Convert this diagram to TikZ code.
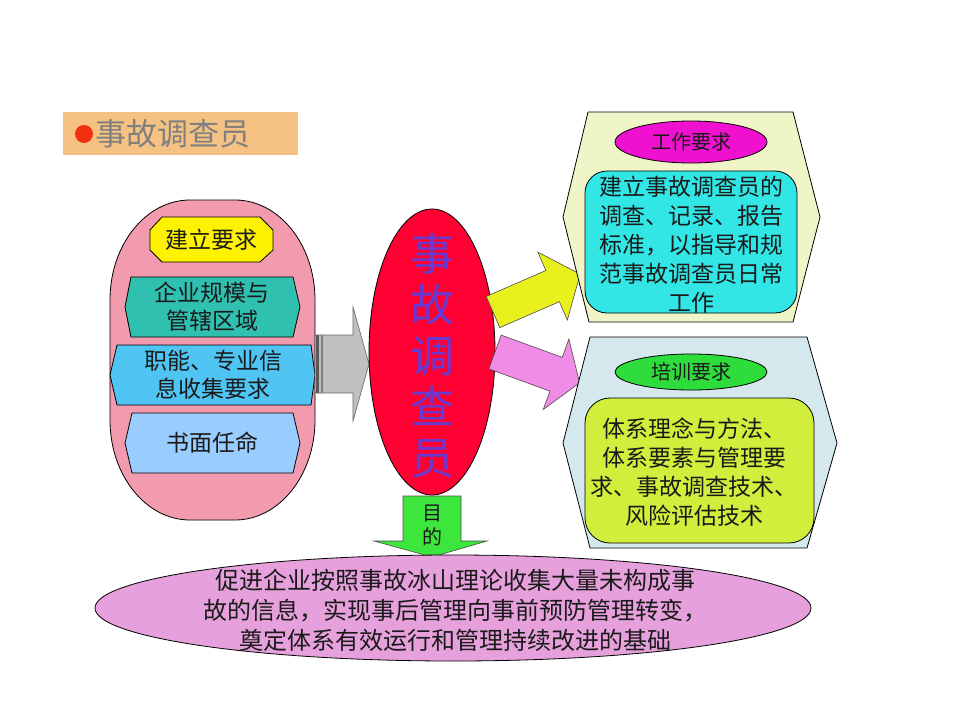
\documentclass[tikz,border=0pt]{standalone}
\usepackage{fontspec}
\setmainfont{Noto Sans CJK SC}
\usetikzlibrary{shapes.geometric}
\definecolor{titlebg}{HTML}{F6C283}
\definecolor{reddot}{HTML}{F03010}
\definecolor{capsule}{HTML}{F29BAE}
\definecolor{teal1}{HTML}{30C0B0}
\definecolor{blue1}{HTML}{50C4F2}
\definecolor{lblue}{HTML}{99CCFF}
\definecolor{grayarrow}{HTML}{C0C0C0}
\definecolor{redell}{HTML}{FF0033}
\definecolor{purpletext}{HTML}{6A3ACF}
\definecolor{yarrow}{HTML}{E8F01E}
\definecolor{parrow}{HTML}{F08CE6}
\definecolor{garrow}{HTML}{3CE63C}
\definecolor{hexA}{HTML}{F0F5C8}
\definecolor{magell}{HTML}{F010D0}
\definecolor{cyanbox}{HTML}{33E6E6}
\definecolor{hexB}{HTML}{D4E8EE}
\definecolor{greenell}{HTML}{2EDC3C}
\definecolor{ygbox}{HTML}{D2EE3C}
\definecolor{bottomell}{HTML}{E6A0DC}
\definecolor{darktext}{HTML}{1A1A1A}
\begin{document}
\begin{tikzpicture}[x=1pt,y=-1pt,line width=0.8pt,
  outl/.style={draw=black},
  txt/.style={inner sep=0pt,align=center,text=darktext,font=\fontsize{23}{28}\selectfont},
  lbl/.style={inner sep=0pt,align=center,text=darktext,font=\fontsize{20}{24}\selectfont}]
\useasboundingbox (0,0) rectangle (960,720);
\fill[white] (0,0) rectangle (960,720);

% title
\fill[titlebg] (63,112) rectangle (298,155);
\fill[reddot] (84,134) circle (9);
\node[anchor=west,inner sep=0pt,text=gray,font=\fontsize{31}{31}\selectfont] (title) at (95,134) {事故调查员};

% left capsule
\filldraw[fill=capsule,draw=black] (110,300) arc[start angle=180,end angle=270,x radius=80,y radius=100]
  -- (235,200) arc[start angle=270,end angle=360,x radius=80,y radius=100]
  -- (315,420) arc[start angle=0,end angle=90,x radius=80,y radius=100]
  -- (190,520) arc[start angle=90,end angle=180,x radius=80,y radius=100] -- cycle;

\filldraw[fill=yellow,draw=black] (150,230) -- (162,217) -- (260,217) -- (273,230) -- (273,250) -- (260,262) -- (162,262) -- (150,250) -- cycle;
\node[txt] (jl) at (211,240) {建立要求};

\filldraw[fill=teal1,draw=black] (125,307) -- (131,277) -- (293,277) -- (300,307) -- (293,337) -- (131,337) -- cycle;
\node[txt] (qy) at (212,307) {企业规模与\\管辖区域};

\filldraw[fill=blue1,draw=black] (110,375) -- (117,345) -- (311,345) -- (315,375) -- (311,405) -- (117,405) -- cycle;
\node[txt] (zn) at (213,375) {职能、专业信\\息收集要求};

\filldraw[fill=lblue,draw=black] (125,443) -- (132,413) -- (293,413) -- (300,443) -- (293,473) -- (132,473) -- cycle;
\node[txt] (sm) at (212,443) {书面任命};

% gray arrow
\filldraw[fill=grayarrow,draw=black!60,line width=0.6pt] (315,335) -- (353,335) -- (353,307) -- (369,364) -- (353,421) -- (353,393) -- (315,393) -- cycle;
\fill[gray!70!black] (316,335) rectangle (319,393);
\fill[gray] (321,335) rectangle (323,393);

% red ellipse
\node[ellipse,fill=redell,draw=black,minimum width=126pt,minimum height=286pt,inner sep=0pt] (ell) at (432,352) {};
\node[inner sep=0pt,align=center,text=purpletext,font=\fontsize{44}{51}\selectfont] (elltext) at (432,356) {事\\故\\调\\查\\员};

% arrows to right
\begin{scope}[shift={(493,312)},rotate=23.5]
\filldraw[fill=yarrow,draw=black!70,line width=0.6pt] (0,-17) -- (65,-17) -- (65,-37) -- (95,0) -- (65,37) -- (65,17) -- (0,17) -- cycle;
\end{scope}
\begin{scope}[shift={(495,352)},rotate=-20]
\filldraw[fill=parrow,draw=black!70,line width=0.6pt] (0,-18) -- (65,-18) -- (65,-37.5) -- (90,0) -- (65,37.5) -- (65,18) -- (0,18) -- cycle;
\end{scope}

% green down arrow
\filldraw[fill=garrow,draw=black!70,line width=0.6pt] (403,496) -- (461,496) -- (461,541) -- (487,541) -- (432,557) -- (374,541) -- (403,541) -- cycle;
\node[lbl] (md) at (432,525) {目\\的};

% upper right hexagon
\filldraw[fill=hexA,draw=black] (563,217) -- (588,112) -- (793,112) -- (820,217) -- (793,322) -- (589,322) -- cycle;
\node[ellipse,fill=magell,draw=black,minimum width=152pt,minimum height=42pt,inner sep=0pt] (gzell) at (691,142) {};
\node[lbl] (gz) at (691,142) {工作要求};
\filldraw[fill=cyanbox,draw=black,rounded corners=22pt] (585,171) rectangle (797,313);
\node[inner sep=0pt,align=center,text=darktext,font=\fontsize{23}{29}\selectfont] (gztext) at (691,245) {建立事故调查员的\\调查、记录、报告\\标准，以指导和规\\范事故调查员日常\\工作};

% lower right hexagon
\filldraw[fill=hexB,draw=black] (563,443) -- (590,337) -- (807,337) -- (837,443) -- (807,548) -- (590,548) -- cycle;
\node[ellipse,fill=greenell,draw=black,minimum width=152pt,minimum height=36pt,inner sep=0pt] (pxell) at (691,372) {};
\node[lbl] (px) at (691,372) {培训要求};
\filldraw[fill=ygbox,draw=black,rounded corners=25pt] (585,398) rectangle (814,543);
\node[inner sep=0pt,align=center,text=darktext,font=\fontsize{23}{29}\selectfont] (pxtext) at (694,472) {体系理念与方法、\\体系要素与管理要\\求、事故调查技术、\\风险评估技术};

% bottom ellipse
\node[ellipse,fill=bottomell,draw=black,minimum width=716pt,minimum height=106pt,inner sep=0pt] (bell) at (453,608) {};
\node[inner sep=0pt,align=center,text=darktext,font=\fontsize{24}{30}\selectfont] (btext) at (455,610) {促进企业按照事故冰山理论收集大量未构成事\\故的信息，实现事后管理向事前预防管理转变，\\奠定体系有效运行和管理持续改进的基础};
\end{tikzpicture}
\end{document}
